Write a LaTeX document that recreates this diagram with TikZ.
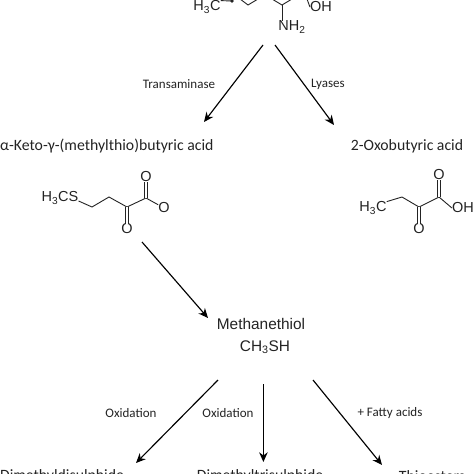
\documentclass[tikz,border=0pt]{standalone}
\usepackage{fontspec}
\setmainfont{Carlito}
\newfontfamily\chemfont{Liberation Sans}
\usetikzlibrary{arrows.meta}
\definecolor{InkGrey}{RGB}{35,35,35}
\tikzset{
  flow/.style={-{Stealth[length=3.4mm,width=3mm]},line width=1.15pt,draw=black},
  bond/.style={line width=0.9pt,draw=InkGrey},
  dbond/.style={bond,double=white,double distance=1.9pt},
  compound/.style={font=\fontsize{15.75}{18}\selectfont,text=InkGrey,inner sep=0pt},
  enzyme/.style={font=\fontsize{13}{15}\selectfont,text=InkGrey,inner sep=0pt},
  atom/.style={font=\chemfont\fontsize{14.5}{16}\selectfont,text=InkGrey,inner sep=0pt},
  thiolname/.style={font=\chemfont\fontsize{15.4}{17}\selectfont,text=InkGrey,inner sep=0pt}
}
\begin{document}
\begin{tikzpicture}[x=1pt,y=-1pt]
  \useasboundingbox (0,0) rectangle (474,474);
  \clip (0,0) rectangle (474,474);

  % top molecule, cut by the edge
  \node[atom] (methyl) at (207,7) {H\textsubscript{3}C};
  \node[atom] (amine) at (292,27) {NH\textsubscript{2}};
  \node[atom] (hydroxyl) at (321,7) {OH};
  \fill[InkGrey] (232,1) circle (1.8);
  \draw[bond] (methyl.north east) -- (232,1);
  \draw[bond] (240,-1) -- (248,5) -- (258,-1);
  \draw[bond] (272,-1) -- (282,5) -- (292,-1);
  \draw[bond] (282,5) -- (amine.north -| 282,5);
  \draw[bond] (307,-1) -- (hydroxyl.west);

  \coordinate (topl) at (263,45);
  \coordinate (topr) at (275,45);
  \coordinate (ketoin) at (204,122);
  \coordinate (oxoin) at (334,125);
  \draw[flow] (topl) -- (ketoin);
  \draw[flow] (topr) -- (oxoin);
  \node[enzyme] (trans) at (179,84) {Transaminase};
  \node[enzyme] (lyase) at (328,84) {Lyases};

  % left acid
  \node[compound,anchor=west] (keto) at (0,146) {α-Keto-γ-(methylthio)butyric acid};
  \node[atom] (mes) at (60,198) {H\textsubscript{3}CS};
  \node[atom] (ktop) at (146,177) {O};
  \node[atom] (kbot) at (127,229) {O};
  \node[atom] (kend) at (164,208) {O};
  \coordinate (k1) at (92,207);
  \coordinate (k2) at (109,197);
  \coordinate (k3) at (127,207);
  \coordinate (k4) at (146,198);
  \draw[bond] (mes.east) ++(0,3) -- (k1) -- (k2) -- (k3) -- (k4) -- (kend);
  \draw[dbond] (k3) -- (kbot);
  \draw[dbond] (k4) -- (ktop);

  % right acid
  \node[compound] (oxo) at (407,146) {2-Oxobutyric acid};
  \node[atom] (ch3) at (373,208) {H\textsubscript{3}C};
  \node[atom] (otop) at (439,175) {O};
  \node[atom] (obot) at (419,229) {O};
  \node[atom] (ohr) at (463,208) {OH};
  \coordinate (o1) at (402,197);
  \coordinate (o2) at (419,207);
  \coordinate (o3) at (439,197);
  \draw[bond] (ch3.north east) -- (o1) -- (o2) -- (o3) -- (ohr.west);
  \draw[dbond] (o2) -- (obot);
  \draw[dbond] (o3) -- (otop);

  \coordinate (kout) at (142,242);
  \coordinate (thiolin) at (208,318);
  \draw[flow] (kout) -- (thiolin);

  \node[thiolname] (thiol) at (261,324) {Methanethiol};
  \node[thiolname] (ch3sh) at (265,347) {CH\textsubscript{3}SH};

  \coordinate (outl) at (218,380);
  \coordinate (outm) at (263.4,384);
  \coordinate (outr) at (313,380);
  \coordinate (inl) at (136,463);
  \coordinate (inm) at (263.4,462);
  \coordinate (inr) at (382,465);
  \draw[flow] (outl) -- (inl);
  \draw[flow] (outm) -- (inm);
  \draw[flow] (outr) -- (inr);
  \node[enzyme] (oxa) at (131,413) {Oxidation};
  \node[enzyme] (oxb) at (228,413) {Oxidation};
  \node[enzyme] (fatty) at (390,413) {+ Fatty acids};

  \node[compound] (dmds) at (62,476) {Dimethyldisulphide};
  \node[compound] (dmts) at (260,476) {Dimethyltrisulphide};
  \node[compound] (thioe) at (432,476) {Thioesters};
\end{tikzpicture}
\end{document}
